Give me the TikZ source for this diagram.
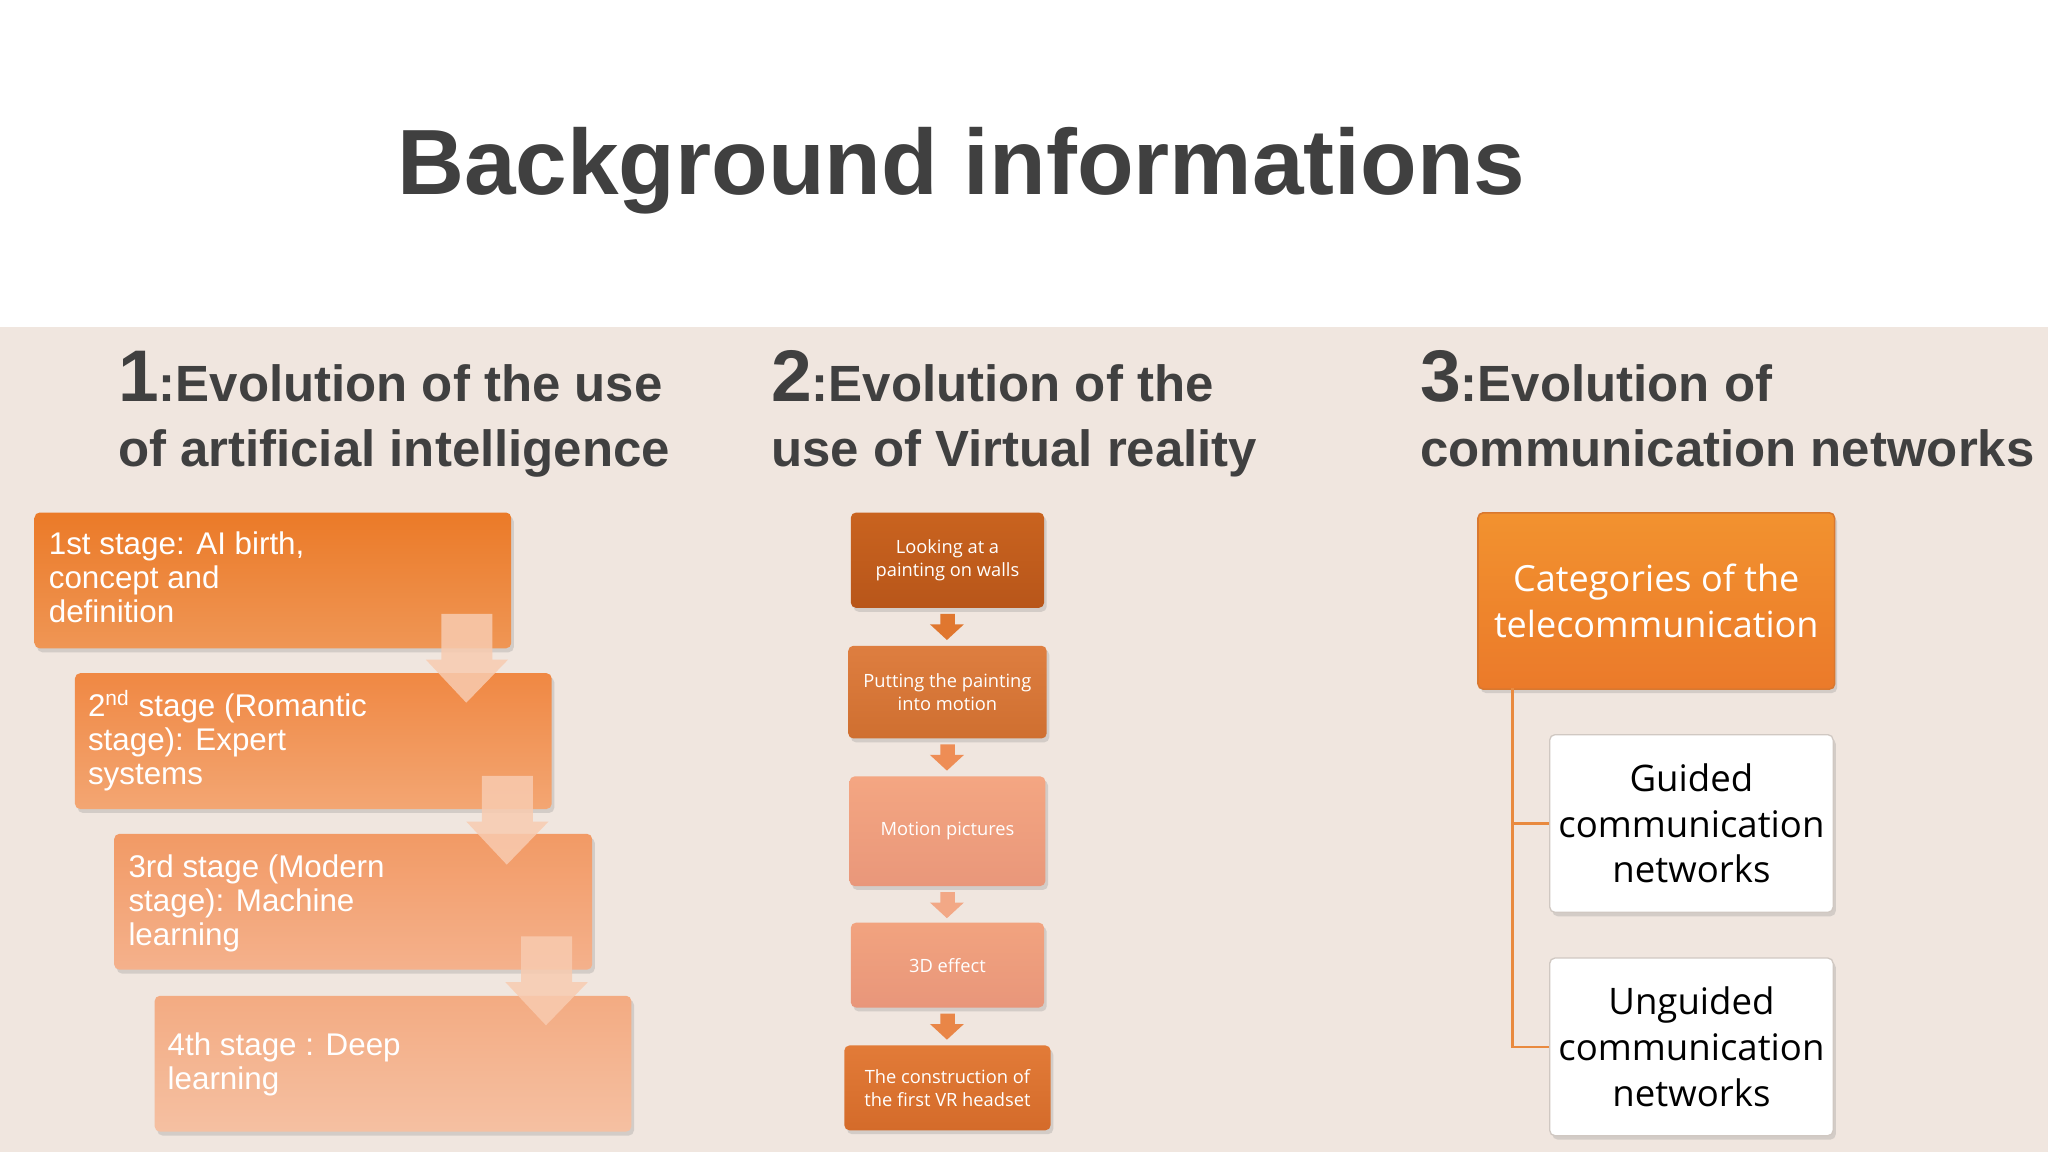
\documentclass[tikz,border=0pt]{standalone}
\usepackage{fontspec}
\setmainfont{Liberation Sans}
\newfontfamily\osans{Open Sans}
\usetikzlibrary{shadows,positioning}
\definecolor{beige}{HTML}{F0E6DF}
\definecolor{dgray}{HTML}{404040}
\definecolor{lineor}{HTML}{E98A3F}
\definecolor{arr}{HTML}{F8CBB0}
\definecolor{aT}{HTML}{EB7A28}\definecolor{aB}{HTML}{EF9655}
\definecolor{bT}{HTML}{F08843}\definecolor{bB}{HTML}{F3A673}
\definecolor{cT}{HTML}{F29A65}\definecolor{cB}{HTML}{F4B18C}
\definecolor{dT}{HTML}{F3AB82}\definecolor{dB}{HTML}{F5C0A2}
\definecolor{v1T}{HTML}{C9631F}\definecolor{v1B}{HTML}{B8561A}
\definecolor{v2T}{HTML}{DE7E40}\definecolor{v2B}{HTML}{CF6F30}
\definecolor{v3T}{HTML}{F4A682}\definecolor{v3B}{HTML}{E9977A}
\definecolor{v4T}{HTML}{F2A37F}\definecolor{v4B}{HTML}{E8967A}
\definecolor{v5T}{HTML}{E27B38}\definecolor{v5B}{HTML}{D46B2A}
\definecolor{kT}{HTML}{F2922F}\definecolor{kB}{HTML}{EB7A2A}
\definecolor{kD}{HTML}{D9782F}\definecolor{wD}{HTML}{D0C8C2}
\definecolor{sa1}{HTML}{E0772F}\definecolor{sa2}{HTML}{EE8D55}
\definecolor{sa3}{HTML}{F2A886}\definecolor{sa4}{HTML}{E98647}
\tikzset{
  sbox/.style={draw=none,anchor=north west,rounded corners=2pt,drop shadow={opacity=0.25,shadow xshift=1pt,shadow yshift=-1.5pt}},
  ctext/.style={anchor=north west,align=left,text=white,font=\fontsize{12}{13}\selectfont,inner sep=0pt},
  vtext/.style={align=center,text=white,font=\osans\fontsize{7}{9}\selectfont,inner sep=0pt},
  head/.style={anchor=west,align=left,text=dgray,font=\bfseries\fontsize{19.5}{25}\selectfont,inner sep=0pt},
  blockarr/.style={fill=arr,opacity=0.85,draw=none},
  smallarr/.style={draw=none},
}
\begin{document}
\begin{tikzpicture}[x=0.5pt,y=-0.5pt]
\useasboundingbox (0,0) rectangle (1568,882);
\fill[white] (0,0) rectangle (1568,250);
\fill[beige] (0,250) rectangle (1568,882);
\node[text=dgray,font=\bfseries\fontsize{35.5}{40}\selectfont] (title) at (736,131) {Background informations};
% headings
\node[head] (h1) at (90,317) {{\fontsize{28}{28}\selectfont 1}:Evolution of the use\\of artificial intelligence};
\node[head] (h2) at (590,317) {{\fontsize{28}{28}\selectfont 2}:Evolution of the\\use of Virtual reality};
\node[head] (h3) at (1087,313) {{\fontsize{28}{28}\selectfont 3}:Evolution of\\communication networks};
% column 1
\node[sbox,minimum width=182.5pt,minimum height=52pt,top color=aT,bottom color=aB] (s1) at (26,392) {};
\node[sbox,minimum width=182.5pt,minimum height=52pt,top color=bT,bottom color=bB] (s2) at (57,515) {};
\node[sbox,minimum width=183pt,minimum height=52pt,top color=cT,bottom color=cB] (s3) at (87,638) {};
\node[sbox,minimum width=182.5pt,minimum height=52pt,top color=dT,bottom color=dB] (s4) at (118,762) {};
\fill[blockarr] (338,470) -- (377,470) -- (377,505) -- (389,505) -- (357,538) -- (326,505) -- (338,505) -- cycle;
\fill[blockarr] (369,594) -- (408,594) -- (408,629) -- (420,629) -- (388,662) -- (357,629) -- (369,629) -- cycle;
\fill[blockarr] (399,717) -- (438,717) -- (438,752) -- (450,752) -- (418,785) -- (387,752) -- (399,752) -- cycle;
\node[ctext] (t1) at (37,407) {1st stage: AI birth,\\concept and\\definition};
\node[ctext] (t2) at (67,528) {2\textsuperscript{nd} stage (Romantic\\stage): Expert\\systems};
\node[ctext] (t3) at (98,654) {3rd stage (Modern\\stage): Machine\\learning};
\node[ctext] (t4) at (128,790) {4th stage : Deep\\learning};
% column 2
\node[sbox,minimum width=74pt,minimum height=36.5pt,top color=v1T,bottom color=v1B] (v1) at (651,392) {};
\node[vtext] at (v1.center) {Looking at a\\painting on walls};
\node[sbox,minimum width=76pt,minimum height=35.5pt,top color=v2T,bottom color=v2B] (v2) at (649,494) {};
\node[vtext] at (v2.center) {Putting the painting\\into motion};
\node[sbox,minimum width=75pt,minimum height=42pt,top color=v3T,bottom color=v3B] (v3) at (650,594) {};
\node[vtext] at (v3.center) {Motion pictures};
\node[sbox,minimum width=74pt,minimum height=32.5pt,top color=v4T,bottom color=v4B] (v4) at (651,706) {};
\node[vtext] at (v4.center) {3D effect};
\node[sbox,minimum width=79pt,minimum height=32.5pt,top color=v5T,bottom color=v5B] (v5) at (646,800) {};
\node[vtext] at (v5.center) {The construction of\\the first VR headset};
\fill[smallarr,fill=sa1] (720,470) -- (731,470) -- (731,478) -- (738,478) -- (725,490) -- (712,478) -- (720,478) -- cycle;
\fill[smallarr,fill=sa2] (720,570) -- (731,570) -- (731,578) -- (738,578) -- (725,590) -- (712,578) -- (720,578) -- cycle;
\fill[smallarr,fill=sa3] (720,683) -- (731,683) -- (731,691) -- (738,691) -- (725,703) -- (712,691) -- (720,691) -- cycle;
\fill[smallarr,fill=sa4] (720,776) -- (731,776) -- (731,784) -- (738,784) -- (725,796) -- (712,784) -- (720,784) -- cycle;
% column 3
\node[sbox,minimum width=136.5pt,minimum height=67.5pt,top color=kT,bottom color=kB,draw=kD,line width=0.6pt] (c0) at (1131,392) {};
\node[align=center,text=white,font=\osans\fontsize{13.8}{17.5}\selectfont] at (c0.center) {Categories of the\\telecommunication};
\node[sbox,minimum width=108.5pt,minimum height=68pt,fill=white,draw=wD,line width=0.5pt] (c1) at (1186,562) {};
\node[align=center,font=\osans\fontsize{14}{17.5}\selectfont] at (c1.center) {Guided\\communication\\networks};
\node[sbox,minimum width=108.5pt,minimum height=68pt,fill=white,draw=wD,line width=0.5pt] (c2) at (1186,733) {};
\node[align=center,font=\osans\fontsize{14}{17.5}\selectfont] at (c2.center) {Unguided\\communication\\networks};
\coordinate (top) at (1158,527);
\draw[lineor,line width=1pt] (top) |- (c1.west);
\draw[lineor,line width=1pt] (top) |- (c2.west);
\end{tikzpicture}
\end{document}
